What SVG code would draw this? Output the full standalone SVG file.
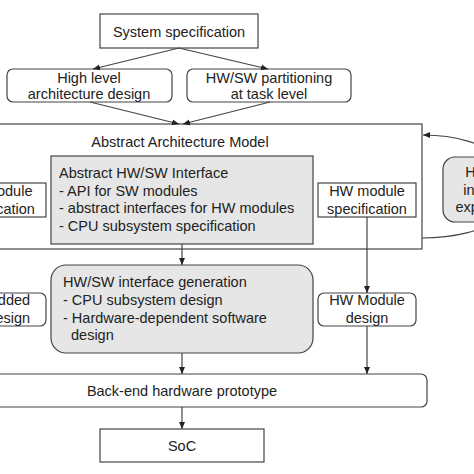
<svg xmlns="http://www.w3.org/2000/svg" width="474" height="474" viewBox="0 0 474 474">
<defs>
<style>
.t{font-family:"Liberation Sans",Arial,sans-serif;font-size:14.5px;fill:#222}
.m{text-anchor:middle}
.b{fill:#fff;stroke:#444;stroke-width:1.2}
.g{fill:#e6e6e6;stroke:#444;stroke-width:1.2}
.c{fill:none;stroke:#444;stroke-width:1.2}
</style>
<marker id="ah" markerWidth="8" markerHeight="8" refX="7" refY="4" orient="auto" markerUnits="userSpaceOnUse">
<path d="M0,1 L7,4 L0,7 Z" fill="#222"/>
</marker>
</defs>
<rect width="474" height="474" fill="#fff"/>

<g id="abstract-model">
<rect class="b" x="-2" y="124" width="424" height="125"/>
<text class="t m" x="180" y="147">Abstract Architecture Model</text>
</g>

<g id="system-spec">
<rect class="b" x="100" y="14" width="158" height="34"/>
<text class="t m" x="179" y="37">System specification</text>
</g>

<g id="high-level">
<rect class="b" x="7" y="69" width="165" height="33" rx="6"/>
<text class="t m" x="89" y="83">High level</text>
<text class="t m" x="89" y="99">architecture design</text>
</g>

<g id="partitioning">
<rect class="b" x="187" y="69" width="164" height="33" rx="6"/>
<text class="t m" x="269" y="83">HW/SW partitioning</text>
<text class="t m" x="269" y="99">at task level</text>
</g>

<g id="sw-module-spec">
<rect class="b" x="-60" y="183" width="106" height="34"/>
<text class="t m" x="-5" y="196">SW module</text>
<text class="t m" x="-5" y="214">specification</text>
</g>

<g id="abstract-interface">
<rect class="g" x="51" y="156" width="262" height="88"/>
<text class="t" x="59" y="178">Abstract HW/SW Interface</text>
<text class="t" x="59" y="196">- API for SW modules</text>
<text class="t" x="59" y="213">- abstract interfaces for HW modules</text>
<text class="t" x="59" y="231">- CPU subsystem specification</text>
</g>

<g id="hw-module-spec">
<rect class="b" x="318" y="183" width="98" height="34"/>
<text class="t m" x="367" y="196">HW module</text>
<text class="t m" x="367" y="214">specification</text>
</g>

<g id="exploration">
<rect class="g" x="443" y="157" width="96" height="65" rx="12"/>
<text class="t m" x="491" y="177">HW/SW</text>
<text class="t m" x="491" y="195">interface</text>
<text class="t m" x="491" y="212">exploration</text>
</g>

<g id="embedded-sw">
<rect class="b" x="-60" y="293" width="106" height="33" rx="6"/>
<text class="t m" x="-5" y="305">Embedded</text>
<text class="t m" x="-5" y="323">SW design</text>
</g>

<g id="interface-generation">
<rect class="g" x="51" y="265" width="262" height="88" rx="15"/>
<text class="t" x="63" y="287">HW/SW interface generation</text>
<text class="t" x="63" y="305">- CPU subsystem design</text>
<text class="t" x="63" y="323">- Hardware-dependent software</text>
<text class="t" x="71" y="340">design</text>
</g>

<g id="hw-module-design">
<rect class="b" x="318" y="293" width="98" height="33" rx="6"/>
<text class="t m" x="367" y="305">HW Module</text>
<text class="t m" x="367" y="323">design</text>
</g>

<g id="backend">
<rect class="b" x="-20" y="374" width="447" height="33" rx="6"/>
<text class="t m" x="182" y="396">Back-end hardware prototype</text>
</g>

<g id="soc">
<rect class="b" x="100" y="429" width="164" height="33"/>
<text class="t m" x="182" y="451">SoC</text>
</g>

<g id="connectors">
<line class="c" x1="179" y1="48" x2="93" y2="69" marker-end="url(#ah)"/>
<line class="c" x1="179" y1="48" x2="268" y2="69" marker-end="url(#ah)"/>
<line class="c" x1="90" y1="102" x2="179" y2="124" marker-end="url(#ah)"/>
<line class="c" x1="270" y1="102" x2="183" y2="124" marker-end="url(#ah)"/>
<line class="c" x1="182" y1="244" x2="182" y2="265" marker-end="url(#ah)"/>
<line class="c" x1="367" y1="217" x2="367" y2="293" marker-end="url(#ah)"/>
<line class="c" x1="182" y1="353" x2="182" y2="374" marker-end="url(#ah)"/>
<line class="c" x1="367" y1="326" x2="367" y2="374" marker-end="url(#ah)"/>
<line class="c" x1="182" y1="407" x2="182" y2="429" marker-end="url(#ah)"/>
<path class="c" d="M500,160 C485,143 455,135 423,135" marker-end="url(#ah)"/>
<path class="c" d="M500,219 C485,230 455,238 422,238"/>
</g>
</svg>
